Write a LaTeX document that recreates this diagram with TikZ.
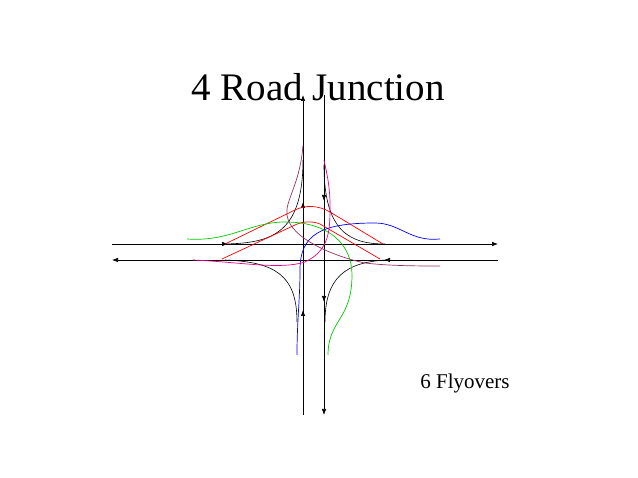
\documentclass[tikz,border=0pt]{standalone}
\usepackage{fontspec}
\setmainfont{Liberation Serif}
\usetikzlibrary{arrows.meta}
\begin{document}
\begin{tikzpicture}[x=1pt,y=-1pt,
  road/.style={black,line width=0.6pt},
  tip/.style={-{Latex[length=6pt,width=4.5pt]}},
  fly/.style={line width=0.7pt}]
\useasboundingbox (0,0) rectangle (638,478);
\fill[white] (0,0) rectangle (638,478);
\node (title) at (318,87) {\fontsize{39}{44}\selectfont 4 Road Junction};
\node (fly) at (465,383) {\fontsize{21}{24}\selectfont 6 Flyovers};
% roads
\coordinate (vlb) at (303,415); \coordinate (vlt) at (303,95);
\coordinate (vrt) at (324,95); \coordinate (vrb) at (324,415);
\coordinate (htl) at (112,244); \coordinate (htr) at (498,244);
\coordinate (hbr) at (498,260); \coordinate (hbl) at (112,260);
\draw[road,tip] (vlb) -- (vlt);
\draw[road,tip] (vrt) -- (vrb);
\draw[road,tip] (htl) -- (htr);
\draw[road,tip] (hbr) -- (hbl);
% mid arrows
\coordinate (a1) at (303,202); \coordinate (a2) at (303,310);
\coordinate (a3) at (324,201); \coordinate (a4) at (324,302);
\coordinate (a5) at (228,244); \coordinate (a6) at (384,260);
\draw[road,tip] (303,212) -- (a1);
\draw[road,tip] (303,320) -- (a2);
\draw[road,tip] (324,191) -- (a3);
\draw[road,tip] (324,292) -- (a4);
\draw[road,tip] (218,244) -- (a5);
\draw[road,tip] (394,260) -- (a6);
% slip lanes
\draw[road] (303,160) .. controls (303,235) and (270,243) .. (225,244);
\draw[road] (324,165) .. controls (324,232) and (350,244) .. (385,244);
\draw[road] (225,260) .. controls (275,262) and (297,275) .. (297,322);
\draw[road] (387,260) .. controls (345,262) and (325,278) .. (325,322);
% flyovers
\draw[fly,red] (225,244) -- (295,210) .. controls (305,205) and (318,205) .. (330,212) -- (383,244);
\draw[fly,red] (222,259) -- (295,225) .. controls (303,221) and (313,221) .. (320,224) -- (380,259);
\draw[fly,green!80!black] (187,239) .. controls (230,242) and (250,222) .. (285,222)
  .. controls (330,222) and (352,245) .. (352,275) .. controls (352,320) and (328,320) .. (328,355);
\draw[fly,blue] (440,239) .. controls (410,242) and (400,223) .. (375,223)
  .. controls (320,223) and (300,235) .. (300,270) .. controls (300,300) and (297,320) .. (297,355);
\draw[fly,magenta] (193,260) .. controls (240,262) and (280,270) .. (305,262)
  .. controls (330,250) and (330,230) .. (330,205) .. controls (330,185) and (326,170) .. (324,160);
\draw[fly,violet!60!brown] (303,145) .. controls (300,185) and (285,200) .. (287,215)
  .. controls (290,240) and (340,258) .. (365,263) .. controls (390,266) and (420,266) .. (440,266);
\end{tikzpicture}
\end{document}
